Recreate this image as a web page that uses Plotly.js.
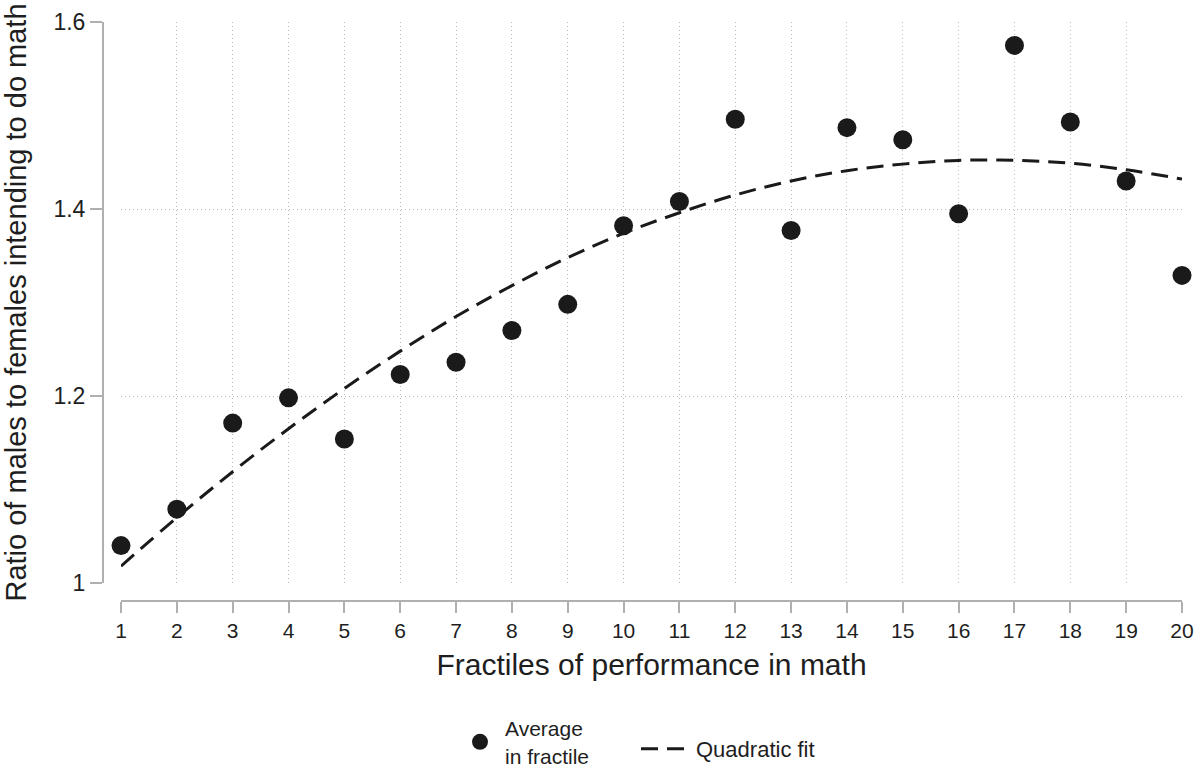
<!DOCTYPE html>
<html>
<head>
<meta charset="utf-8">
<script src="https://cdn.plot.ly/plotly-3.0.1.min.js"></script>
<style>
  html, body { margin: 0; padding: 0; background: #fff; overflow: hidden; }
  #chart { width: 1200px; height: 769px; }
</style>
</head>
<body>
<div id="chart"></div>
<script>
// Fractiles of performance in math
const fractiles = [1,2,3,4,5,6,7,8,9,10,11,12,13,14,15,16,17,18,19,20];
// Average ratio in each fractile
const averageRatio = [1.040,1.079,1.171,1.198,1.154,1.223,1.236,1.270,1.298,1.382,
                      1.408,1.496,1.377,1.487,1.474,1.395,1.575,1.493,1.430,1.329];
// Quadratic fit line values
const quadraticFit = [1.018,1.070,1.119,1.165,1.208,1.248,1.285,1.318,1.348,1.374,
                      1.396,1.415,1.430,1.441,1.448,1.452,1.452,1.449,1.442,1.432];
const yTicks = [1, 1.2, 1.4, 1.6];
const yTickLabels = ['1', '1.2', '1.4', '1.6'];

const FONT = '"Liberation Sans", Arial, Helvetica, sans-serif';
const INK = '#1a1a1a';
const TEXT = '#1e1e1e';
const AXIS = '#b0b0b0';
const GRID = '#b8b8b8';

const W = 1200, H = 769;

const traces = [
  {
    x: fractiles, y: averageRatio,
    type: 'scatter', mode: 'markers',
    name: 'Average<br>in fractile',
    legend: 'legend',
    marker: { color: INK, size: 19, line: { width: 0 } },
    cliponaxis: false,
    hoverinfo: 'skip'
  },
  {
    x: fractiles, y: quadraticFit,
    type: 'scatter', mode: 'lines',
    name: 'Quadratic fit',
    legend: 'legend2',
    line: { color: INK, width: 3, dash: '17px,9px', shape: 'spline', smoothing: 1 },
    cliponaxis: false,
    hoverinfo: 'skip'
  }
];

const legendCommon = {
  orientation: 'h',
  xanchor: 'left',
  yanchor: 'middle',
  tracegroupgap: 0,
  borderwidth: 0,
  bgcolor: 'rgba(0,0,0,0)'
};

const layout = {
  width: W, height: H,
  margin: { l: 0, r: 0, t: 0, b: 0, pad: 0, autoexpand: false },
  paper_bgcolor: '#fff',
  plot_bgcolor: '#fff',
  font: { family: FONT, color: TEXT, size: 21 },
  showlegend: true,
  legend: Object.assign({}, legendCommon, {
    x: 455 / W, y: 1 - 742 / H, itemwidth: 40,
    font: { family: FONT, size: 21, color: TEXT }
  }),
  legend2: Object.assign({}, legendCommon, {
    x: 636 / W, y: 1 - 749 / H, itemwidth: 50,
    font: { family: FONT, size: 22, color: TEXT }
  }),
  xaxis: {
    domain: [121 / W, 1182 / W],
    range: [1, 20],
    anchor: 'free',
    position: 1 - 601 / H,
    tickmode: 'array',
    tickvals: fractiles,
    ticktext: fractiles.map(String),
    ticks: 'outside', ticklen: 11, tickwidth: 2, tickcolor: AXIS,
    tickfont: { family: FONT, size: 21, color: TEXT },
    showline: true, linecolor: AXIS, linewidth: 2,
    showgrid: true, gridcolor: GRID, gridwidth: 1, griddash: '1px,3px',
    zeroline: false,
    automargin: false,
    title: { text: 'Fractiles of performance in math', font: { family: FONT, size: 30, color: TEXT }, standoff: 12 }
  },
  yaxis: {
    domain: [1 - 583 / H, 1 - 22 / H],
    range: [1, 1.6],
    anchor: 'free',
    position: 103 / W,
    tickmode: 'array',
    tickvals: yTicks,
    ticktext: yTickLabels,
    ticks: 'outside', ticklen: 12, tickwidth: 2, tickcolor: AXIS,
    tickfont: { family: FONT, size: 23, color: TEXT },
    showline: true, linecolor: AXIS, linewidth: 2,
    showgrid: true, gridcolor: GRID, gridwidth: 1, griddash: '1px,3px',
    zeroline: false,
    automargin: false,
    title: { text: 'Ratio of males to females intending to do math', font: { family: FONT, size: 29, color: TEXT }, standoff: 21 }
  }
};

Plotly.newPlot('chart', traces, layout, { displayModeBar: false, staticPlot: true });
</script>
</body>
</html>
